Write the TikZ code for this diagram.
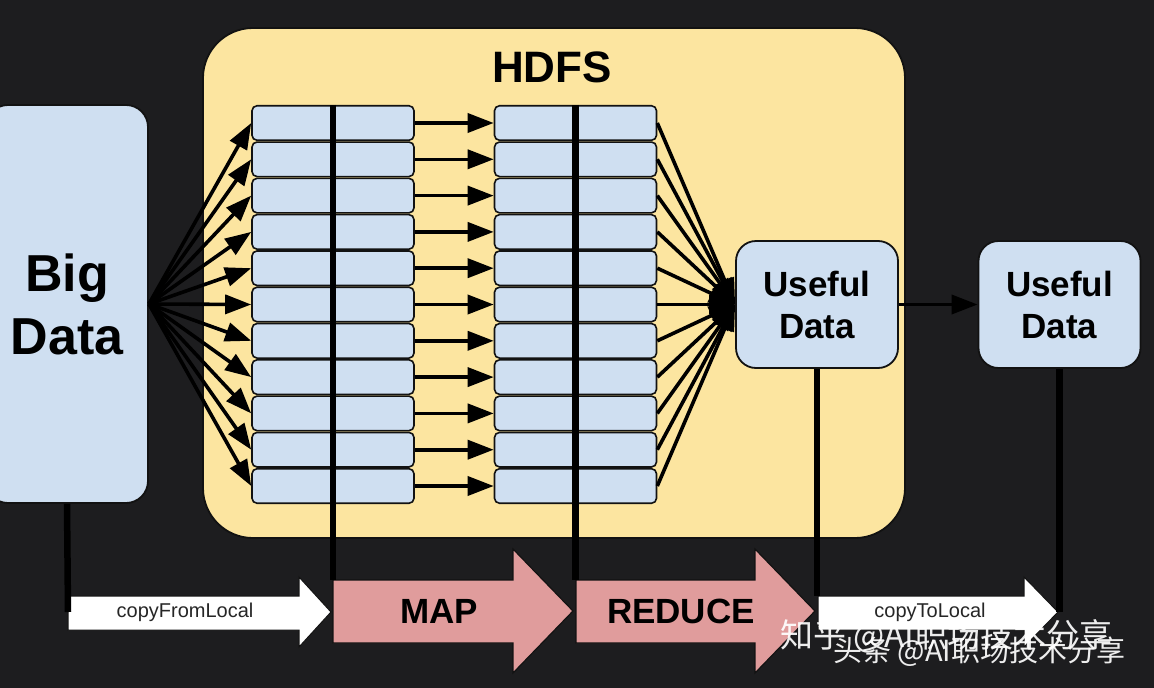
\documentclass[tikz,border=0pt]{standalone}
\usepackage{fontspec}
\setmainfont{Liberation Sans}
\newfontfamily\cjkfont{Noto Sans CJK SC}
\usetikzlibrary{arrows.meta}
\definecolor{bgc}{HTML}{1D1D1F}
\definecolor{boxblue}{HTML}{CFDFF1}
\definecolor{hdfsy}{HTML}{FCE5A0}
\definecolor{mrpink}{HTML}{E09C9C}
\definecolor{edgec}{HTML}{121212}
\begin{document}
\begin{tikzpicture}[x=1pt,y=-1pt,
  bluebox/.style={draw=edgec, line width=1.8pt, fill=boxblue, rounded corners=20pt, inner sep=0pt, align=center},
  rowbox/.style={draw=edgec, line width=1.6pt, fill=boxblue, rounded corners=5pt, minimum width=162pt, minimum height=34.5pt, inner sep=0pt},
  arr/.style={line width=3.6pt, -{Triangle[length=26pt,width=19pt]}},
  vline/.style={line width=6.5pt},
  whitearrow/.style={draw=edgec, line width=1pt, fill=white},
  pinkarrow/.style={draw=edgec, line width=1.2pt, fill=mrpink},
  bigtxt/.style={font=\bfseries\fontsize{35}{42}\selectfont},
  smalltxt/.style={font=\fontsize{20}{24}\selectfont, text=black!85},
  wm/.style={text=white, opacity=0.92, anchor=west, inner sep=0pt}
]
\useasboundingbox (0,0) rectangle (1154,688);
\clip (0,0) rectangle (1154,688);
\fill[bgc] (0,0) rectangle (1154,688);

% HDFS container
\node[draw=edgec, line width=1.8pt, fill=hdfsy, rounded corners=50pt, minimum width=702pt, minimum height=510pt] (hdfs) at (554,283) {};
\node[font=\bfseries\fontsize{44}{50}\selectfont] (hdfslabel) at (552,67) {HDFS};

% Big Data
\node[bluebox, rounded corners=22pt, minimum width=162pt, minimum height=398pt, font=\bfseries\fontsize{52}{63}\selectfont] (bd) at (67,304) {Big\\Data};

% Useful Data boxes
\node[bluebox, minimum width=162pt, minimum height=127pt, bigtxt] (ud1) at (817,304.5) {Useful\\Data};
\node[bluebox, minimum width=162pt, minimum height=127pt, bigtxt] (ud2) at (1059.5,304.5) {Useful\\Data};

% rows
\foreach \i in {1,...,11}{
  \pgfmathsetmacro\yy{123+36.3*(\i-1)}
  \node[rowbox] (L\i) at (333,\yy) {};
  \node[rowbox] (R\i) at (575.5,\yy) {};
}

% arrows
\foreach \i in {1,...,11}{
  \draw[arr] (bd.east) -- (L\i.west);
  \draw[arr] (L\i.east) -- (R\i.west);
  \draw[arr] (R\i.east) -- (ud1.west);
}
\draw[arr] (ud1.east) -- (ud2.west);

% bottom arrows
\coordinate (cfStart) at (68,612);
\coordinate (mapTop) at (333,580);
\coordinate (redTop) at (575.5,580);
\coordinate (ctTop) at (817,596);
\coordinate (ctEnd) at (1059.5,612);

\draw[whitearrow] (68,596) -- (299,596) -- (299,577) -- (331,612) -- (299,647) -- (299,630) -- (68,630) -- cycle;
\node[smalltxt] (cfl) at (185,612) {copyFromLocal};

\draw[pinkarrow] (333,580) -- (513,580) -- (513,549) -- (573,611) -- (513,673) -- (513,643) -- (333,643) -- cycle;
\node[font=\bfseries\fontsize{35}{42}\selectfont] (map) at (439,611) {MAP};

\draw[pinkarrow] (576,580) -- (755,580) -- (755,549) -- (815,611) -- (755,673) -- (755,643) -- (576,643) -- cycle;
\node[font=\bfseries\fontsize{35}{42}\selectfont] (reduce) at (681,611) {REDUCE};

\draw[whitearrow] (818,596) -- (1024,596) -- (1024,577) -- (1058,612) -- (1024,647) -- (1024,630) -- (818,630) -- cycle;
\node[smalltxt] (ctl) at (930,612) {copyToLocal};

% thick vertical lines
\draw[vline] (L1.north) -- (mapTop);
\draw[vline] (R1.north) -- (redTop);
\draw[vline] (bd.south) -- (cfStart);
\draw[vline] (ud1.south) -- (ctTop);
\draw[vline] (ud2.south) -- (ctEnd);

% watermark
\node[wm, font=\cjkfont\fontsize{33}{36}\selectfont] (wm1) at (780,636) {知乎 @AI职场技术分享};
\node[wm, font=\cjkfont\fontsize{29}{32}\selectfont] (wm2) at (833,652) {头条 @AI职场技术分享};
\end{tikzpicture}
\end{document}
